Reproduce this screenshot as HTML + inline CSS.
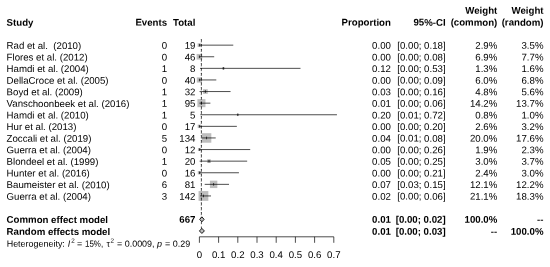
<!DOCTYPE html><html><head><meta charset="utf-8"><title>Forest plot</title><style>html,body{margin:0;padding:0;background:#fff}svg{display:block}text{text-rendering:geometricPrecision;font-family:"Liberation Sans",Arial,Helvetica,sans-serif;font-size:9.67px;fill:#000}.b{font-weight:bold}.e{text-anchor:end}.m{text-anchor:middle}</style></head><body>
<svg width="550" height="267" viewBox="0 0 550 267">
<rect width="550" height="267" fill="#fff"/>
<text transform="matrix(1,0.001,0,1,6.60,25.65)" class="b">Study</text>
<text transform="matrix(1,0.001,0,1,167.10,25.65)" class="b e">Events</text>
<text transform="matrix(1,0.001,0,1,195.40,25.65)" class="b e">Total</text>
<text transform="matrix(1,0.001,0,1,390.90,25.65)" class="b e">Proportion</text>
<text transform="matrix(1,0.001,0,1,445.60,25.65)" class="b e">95%-CI</text>
<text transform="matrix(1,0.001,0,1,497.30,13.75)" class="b e">Weight</text>
<text transform="matrix(1,0.001,0,1,497.30,25.65)" class="b e">(common)</text>
<text transform="matrix(1,0.001,0,1,543.50,13.75)" class="b e">Weight</text>
<text transform="matrix(1,0.001,0,1,543.50,25.65)" class="b e">(random)</text>
<rect x="197.59" y="43.34" width="3.63" height="3.63" fill="#bebebe"/>
<rect x="196.60" y="53.95" width="5.60" height="5.60" fill="#bebebe"/>
<rect x="222.19" y="67.14" width="2.43" height="2.43" fill="#bebebe"/>
<rect x="196.79" y="77.34" width="5.22" height="5.22" fill="#bebebe"/>
<rect x="203.07" y="89.22" width="4.67" height="4.67" fill="#bebebe"/>
<rect x="197.41" y="99.14" width="8.03" height="8.03" fill="#bebebe"/>
<rect x="236.85" y="113.80" width="1.91" height="1.91" fill="#bebebe"/>
<rect x="197.68" y="124.63" width="3.43" height="3.43" fill="#bebebe"/>
<rect x="201.80" y="133.19" width="9.53" height="9.53" fill="#bebebe"/>
<rect x="197.93" y="148.08" width="2.94" height="2.94" fill="#bebebe"/>
<rect x="207.16" y="159.31" width="3.69" height="3.69" fill="#bebebe"/>
<rect x="197.75" y="171.10" width="3.30" height="3.30" fill="#bebebe"/>
<rect x="209.92" y="180.65" width="7.41" height="7.41" fill="#bebebe"/>
<rect x="198.56" y="191.06" width="9.78" height="9.78" fill="#bebebe"/>
<text transform="matrix(1,0.001,0,1,6.60,48.85)">Rad et al.&#160; (2010)</text>
<text transform="matrix(1,0.001,0,1,167.10,48.85)" class="e">0</text>
<text transform="matrix(1,0.001,0,1,195.40,48.85)" class="e">19</text>
<text transform="matrix(1,0.001,0,1,390.90,48.85)" class="e">0.00</text>
<text transform="matrix(1,0.001,0,1,445.60,48.85)" class="e">[0.00; 0.18]</text>
<text transform="matrix(1,0.001,0,1,497.30,48.85)" class="e">2.9%</text>
<text transform="matrix(1,0.001,0,1,543.50,48.85)" class="e">3.5%</text>
<line x1="199.40" y1="45.15" x2="233.28" y2="45.15" stroke="#000" stroke-width="0.7"/>
<line x1="199.40" y1="43.85" x2="199.40" y2="46.45" stroke="#000" stroke-width="0.7"/>
<text transform="matrix(1,0.001,0,1,6.60,60.45)">Flores et al. (2012)</text>
<text transform="matrix(1,0.001,0,1,167.10,60.45)" class="e">0</text>
<text transform="matrix(1,0.001,0,1,195.40,60.45)" class="e">46</text>
<text transform="matrix(1,0.001,0,1,390.90,60.45)" class="e">0.00</text>
<text transform="matrix(1,0.001,0,1,445.60,60.45)" class="e">[0.00; 0.08]</text>
<text transform="matrix(1,0.001,0,1,497.30,60.45)" class="e">6.9%</text>
<text transform="matrix(1,0.001,0,1,543.50,60.45)" class="e">7.7%</text>
<line x1="199.40" y1="56.75" x2="214.20" y2="56.75" stroke="#000" stroke-width="0.7"/>
<line x1="199.40" y1="55.45" x2="199.40" y2="58.05" stroke="#000" stroke-width="0.7"/>
<text transform="matrix(1,0.001,0,1,6.60,72.05)">Hamdi et al. (2004)</text>
<text transform="matrix(1,0.001,0,1,167.10,72.05)" class="e">1</text>
<text transform="matrix(1,0.001,0,1,195.40,72.05)" class="e">8</text>
<text transform="matrix(1,0.001,0,1,390.90,72.05)" class="e">0.12</text>
<text transform="matrix(1,0.001,0,1,445.60,72.05)" class="e">[0.00; 0.53]</text>
<text transform="matrix(1,0.001,0,1,497.30,72.05)" class="e">1.3%</text>
<text transform="matrix(1,0.001,0,1,543.50,72.05)" class="e">1.6%</text>
<line x1="200.01" y1="68.35" x2="300.49" y2="68.35" stroke="#000" stroke-width="0.7"/>
<line x1="223.40" y1="67.05" x2="223.40" y2="69.65" stroke="#000" stroke-width="0.7"/>
<text transform="matrix(1,0.001,0,1,6.60,83.65)">DellaCroce et al. (2005)</text>
<text transform="matrix(1,0.001,0,1,167.10,83.65)" class="e">0</text>
<text transform="matrix(1,0.001,0,1,195.40,83.65)" class="e">40</text>
<text transform="matrix(1,0.001,0,1,390.90,83.65)" class="e">0.00</text>
<text transform="matrix(1,0.001,0,1,445.60,83.65)" class="e">[0.00; 0.09]</text>
<text transform="matrix(1,0.001,0,1,497.30,83.65)" class="e">6.0%</text>
<text transform="matrix(1,0.001,0,1,543.50,83.65)" class="e">6.8%</text>
<line x1="199.40" y1="79.95" x2="216.31" y2="79.95" stroke="#000" stroke-width="0.7"/>
<line x1="199.40" y1="78.65" x2="199.40" y2="81.25" stroke="#000" stroke-width="0.7"/>
<text transform="matrix(1,0.001,0,1,6.60,95.25)">Boyd et al. (2009)</text>
<text transform="matrix(1,0.001,0,1,167.10,95.25)" class="e">1</text>
<text transform="matrix(1,0.001,0,1,195.40,95.25)" class="e">32</text>
<text transform="matrix(1,0.001,0,1,390.90,95.25)" class="e">0.03</text>
<text transform="matrix(1,0.001,0,1,445.60,95.25)" class="e">[0.00; 0.16]</text>
<text transform="matrix(1,0.001,0,1,497.30,95.25)" class="e">4.8%</text>
<text transform="matrix(1,0.001,0,1,543.50,95.25)" class="e">5.6%</text>
<line x1="199.55" y1="91.55" x2="230.54" y2="91.55" stroke="#000" stroke-width="0.7"/>
<line x1="205.40" y1="90.25" x2="205.40" y2="92.85" stroke="#000" stroke-width="0.7"/>
<text transform="matrix(1,0.001,0,1,6.60,106.85)">Vanschoonbeek et al. (2016)</text>
<text transform="matrix(1,0.001,0,1,167.10,106.85)" class="e">1</text>
<text transform="matrix(1,0.001,0,1,195.40,106.85)" class="e">95</text>
<text transform="matrix(1,0.001,0,1,390.90,106.85)" class="e">0.01</text>
<text transform="matrix(1,0.001,0,1,445.60,106.85)" class="e">[0.00; 0.06]</text>
<text transform="matrix(1,0.001,0,1,497.30,106.85)" class="e">14.2%</text>
<text transform="matrix(1,0.001,0,1,543.50,106.85)" class="e">13.7%</text>
<line x1="199.45" y1="103.15" x2="210.39" y2="103.15" stroke="#000" stroke-width="0.7"/>
<line x1="201.42" y1="101.85" x2="201.42" y2="104.45" stroke="#000" stroke-width="0.7"/>
<text transform="matrix(1,0.001,0,1,6.60,118.45)">Hamdi et al. (2010)</text>
<text transform="matrix(1,0.001,0,1,167.10,118.45)" class="e">1</text>
<text transform="matrix(1,0.001,0,1,195.40,118.45)" class="e">5</text>
<text transform="matrix(1,0.001,0,1,390.90,118.45)" class="e">0.20</text>
<text transform="matrix(1,0.001,0,1,445.60,118.45)" class="e">[0.01; 0.72]</text>
<text transform="matrix(1,0.001,0,1,497.30,118.45)" class="e">0.8%</text>
<text transform="matrix(1,0.001,0,1,543.50,118.45)" class="e">1.0%</text>
<line x1="200.37" y1="114.75" x2="336.95" y2="114.75" stroke="#000" stroke-width="0.7"/>
<line x1="237.80" y1="113.45" x2="237.80" y2="116.05" stroke="#000" stroke-width="0.7"/>
<text transform="matrix(1,0.001,0,1,6.60,130.05)">Hur et al. (2013)</text>
<text transform="matrix(1,0.001,0,1,167.10,130.05)" class="e">0</text>
<text transform="matrix(1,0.001,0,1,195.40,130.05)" class="e">17</text>
<text transform="matrix(1,0.001,0,1,390.90,130.05)" class="e">0.00</text>
<text transform="matrix(1,0.001,0,1,445.60,130.05)" class="e">[0.00; 0.20]</text>
<text transform="matrix(1,0.001,0,1,497.30,130.05)" class="e">2.6%</text>
<text transform="matrix(1,0.001,0,1,543.50,130.05)" class="e">3.2%</text>
<line x1="199.40" y1="126.35" x2="236.85" y2="126.35" stroke="#000" stroke-width="0.7"/>
<line x1="199.40" y1="125.05" x2="199.40" y2="127.65" stroke="#000" stroke-width="0.7"/>
<text transform="matrix(1,0.001,0,1,6.60,141.65)">Zoccali et al. (2019)</text>
<text transform="matrix(1,0.001,0,1,167.10,141.65)" class="e">5</text>
<text transform="matrix(1,0.001,0,1,195.40,141.65)" class="e">134</text>
<text transform="matrix(1,0.001,0,1,390.90,141.65)" class="e">0.04</text>
<text transform="matrix(1,0.001,0,1,445.60,141.65)" class="e">[0.01; 0.08]</text>
<text transform="matrix(1,0.001,0,1,497.30,141.65)" class="e">20.0%</text>
<text transform="matrix(1,0.001,0,1,543.50,141.65)" class="e">17.6%</text>
<line x1="201.75" y1="137.95" x2="215.71" y2="137.95" stroke="#000" stroke-width="0.7"/>
<line x1="206.56" y1="136.65" x2="206.56" y2="139.25" stroke="#000" stroke-width="0.7"/>
<text transform="matrix(1,0.001,0,1,6.60,153.25)">Guerra et al. (2004)</text>
<text transform="matrix(1,0.001,0,1,167.10,153.25)" class="e">0</text>
<text transform="matrix(1,0.001,0,1,195.40,153.25)" class="e">12</text>
<text transform="matrix(1,0.001,0,1,390.90,153.25)" class="e">0.00</text>
<text transform="matrix(1,0.001,0,1,445.60,153.25)" class="e">[0.00; 0.26]</text>
<text transform="matrix(1,0.001,0,1,497.30,153.25)" class="e">1.9%</text>
<text transform="matrix(1,0.001,0,1,543.50,153.25)" class="e">2.3%</text>
<line x1="199.40" y1="149.55" x2="250.21" y2="149.55" stroke="#000" stroke-width="0.7"/>
<line x1="199.40" y1="148.25" x2="199.40" y2="150.85" stroke="#000" stroke-width="0.7"/>
<text transform="matrix(1,0.001,0,1,6.60,164.85)">Blondeel et al. (1999)</text>
<text transform="matrix(1,0.001,0,1,167.10,164.85)" class="e">1</text>
<text transform="matrix(1,0.001,0,1,195.40,164.85)" class="e">20</text>
<text transform="matrix(1,0.001,0,1,390.90,164.85)" class="e">0.05</text>
<text transform="matrix(1,0.001,0,1,445.60,164.85)" class="e">[0.00; 0.25]</text>
<text transform="matrix(1,0.001,0,1,497.30,164.85)" class="e">3.0%</text>
<text transform="matrix(1,0.001,0,1,543.50,164.85)" class="e">3.7%</text>
<line x1="199.64" y1="161.15" x2="247.16" y2="161.15" stroke="#000" stroke-width="0.7"/>
<line x1="209.00" y1="159.85" x2="209.00" y2="162.45" stroke="#000" stroke-width="0.7"/>
<text transform="matrix(1,0.001,0,1,6.60,176.45)">Hunter et al. (2016)</text>
<text transform="matrix(1,0.001,0,1,167.10,176.45)" class="e">0</text>
<text transform="matrix(1,0.001,0,1,195.40,176.45)" class="e">16</text>
<text transform="matrix(1,0.001,0,1,390.90,176.45)" class="e">0.00</text>
<text transform="matrix(1,0.001,0,1,445.60,176.45)" class="e">[0.00; 0.21]</text>
<text transform="matrix(1,0.001,0,1,497.30,176.45)" class="e">2.4%</text>
<text transform="matrix(1,0.001,0,1,543.50,176.45)" class="e">3.0%</text>
<line x1="199.40" y1="172.75" x2="238.93" y2="172.75" stroke="#000" stroke-width="0.7"/>
<line x1="199.40" y1="171.45" x2="199.40" y2="174.05" stroke="#000" stroke-width="0.7"/>
<text transform="matrix(1,0.001,0,1,6.60,188.05)">Baumeister et al. (2010)</text>
<text transform="matrix(1,0.001,0,1,167.10,188.05)" class="e">6</text>
<text transform="matrix(1,0.001,0,1,195.40,188.05)" class="e">81</text>
<text transform="matrix(1,0.001,0,1,390.90,188.05)" class="e">0.07</text>
<text transform="matrix(1,0.001,0,1,445.60,188.05)" class="e">[0.03; 0.15]</text>
<text transform="matrix(1,0.001,0,1,497.30,188.05)" class="e">12.1%</text>
<text transform="matrix(1,0.001,0,1,543.50,188.05)" class="e">12.2%</text>
<line x1="204.71" y1="184.35" x2="229.02" y2="184.35" stroke="#000" stroke-width="0.7"/>
<line x1="213.62" y1="183.05" x2="213.62" y2="185.65" stroke="#000" stroke-width="0.7"/>
<text transform="matrix(1,0.001,0,1,6.60,199.65)">Guerra et al. (2004)</text>
<text transform="matrix(1,0.001,0,1,167.10,199.65)" class="e">3</text>
<text transform="matrix(1,0.001,0,1,195.40,199.65)" class="e">142</text>
<text transform="matrix(1,0.001,0,1,390.90,199.65)" class="e">0.02</text>
<text transform="matrix(1,0.001,0,1,445.60,199.65)" class="e">[0.00; 0.06]</text>
<text transform="matrix(1,0.001,0,1,497.30,199.65)" class="e">21.1%</text>
<text transform="matrix(1,0.001,0,1,543.50,199.65)" class="e">18.3%</text>
<line x1="200.24" y1="195.95" x2="211.02" y2="195.95" stroke="#000" stroke-width="0.7"/>
<line x1="203.46" y1="194.65" x2="203.46" y2="197.25" stroke="#000" stroke-width="0.7"/>
<line x1="201.28" y1="39.35" x2="201.28" y2="219.15" stroke="#000" stroke-width="0.7" stroke-dasharray="0.6 1.8"/>
<line x1="201.42" y1="39.35" x2="201.42" y2="230.75" stroke="#000" stroke-width="0.7" stroke-dasharray="2.4 2.4"/>
<polygon points="199.70,219.35 201.90,216.85 204.10,219.35 201.90,221.85" fill="#bebebe" stroke="#000" stroke-width="0.9" stroke-linejoin="round"/>
<polygon points="199.40,230.95 201.90,228.45 204.40,230.95 201.90,233.45" fill="#bebebe" stroke="#000" stroke-width="0.9" stroke-linejoin="round"/>
<text transform="matrix(1,0.001,0,1,6.60,222.85)" class="b">Common effect model</text>
<text transform="matrix(1,0.001,0,1,195.40,222.85)" class="b e">667</text>
<text transform="matrix(1,0.001,0,1,390.90,222.85)" class="b e">0.01</text>
<text transform="matrix(1,0.001,0,1,445.60,222.85)" class="b e">[0.00; 0.02]</text>
<text transform="matrix(1,0.001,0,1,497.30,222.85)" class="b e">100.0%</text>
<text transform="matrix(1,0.001,0,1,543.50,222.85)" class="b e">--</text>
<text transform="matrix(1,0.001,0,1,6.60,234.85)" class="b">Random effects model</text>
<text transform="matrix(1,0.001,0,1,390.90,234.85)" class="b e">0.01</text>
<text transform="matrix(1,0.001,0,1,445.60,234.85)" class="b e">[0.00; 0.03]</text>
<text transform="matrix(1,0.001,0,1,497.30,234.85)" class="b e">--</text>
<text transform="matrix(1,0.001,0,1,543.50,234.85)" class="b e">100.0%</text>
<text transform="matrix(1,0.001,0,1,6.70,246.75)" style="font-size:8.95px">Heterogeneity: </text>
<text transform="matrix(1,0.001,0,1,67.70,246.75)" style="font-size:8.95px;font-style:italic">I</text>
<text transform="matrix(1,0.001,0,1,71.30,242.85)" style="font-size:6.26px">2</text>
<text transform="matrix(1,0.001,0,1,77.00,246.75)" style="font-size:8.95px">=</text>
<text transform="matrix(1,0.001,0,1,85.00,246.75)" style="font-size:8.95px" textLength="18.1" lengthAdjust="spacingAndGlyphs">15%,</text>
<text transform="matrix(1,0.001,0,1,106.60,246.75)" style="font-size:8.95px">&#964;</text>
<text transform="matrix(1,0.001,0,1,110.60,242.85)" style="font-size:6.26px">2</text>
<text transform="matrix(1,0.001,0,1,117.00,246.75)" style="font-size:8.95px">= 0.0009,</text>
<text transform="matrix(1,0.001,0,1,157.00,246.75)" style="font-size:8.95px;font-style:italic">p</text>
<text transform="matrix(1,0.001,0,1,165.00,246.75)" style="font-size:8.95px">= 0.29</text>
<line x1="199.40" y1="236.80" x2="333.80" y2="236.80" stroke="#000" stroke-width="0.7"/>
<line x1="199.40" y1="236.80" x2="199.40" y2="242.80" stroke="#000" stroke-width="0.7"/>
<text transform="matrix(1,0.001,0,1,199.40,258.00)" class="m">0</text>
<line x1="218.60" y1="236.80" x2="218.60" y2="242.80" stroke="#000" stroke-width="0.7"/>
<text transform="matrix(1,0.001,0,1,218.60,258.00)" class="m">0.1</text>
<line x1="237.80" y1="236.80" x2="237.80" y2="242.80" stroke="#000" stroke-width="0.7"/>
<text transform="matrix(1,0.001,0,1,237.80,258.00)" class="m">0.2</text>
<line x1="257.00" y1="236.80" x2="257.00" y2="242.80" stroke="#000" stroke-width="0.7"/>
<text transform="matrix(1,0.001,0,1,257.00,258.00)" class="m">0.3</text>
<line x1="276.20" y1="236.80" x2="276.20" y2="242.80" stroke="#000" stroke-width="0.7"/>
<text transform="matrix(1,0.001,0,1,276.20,258.00)" class="m">0.4</text>
<line x1="295.40" y1="236.80" x2="295.40" y2="242.80" stroke="#000" stroke-width="0.7"/>
<text transform="matrix(1,0.001,0,1,295.40,258.00)" class="m">0.5</text>
<line x1="314.60" y1="236.80" x2="314.60" y2="242.80" stroke="#000" stroke-width="0.7"/>
<text transform="matrix(1,0.001,0,1,314.60,258.00)" class="m">0.6</text>
<line x1="333.80" y1="236.80" x2="333.80" y2="242.80" stroke="#000" stroke-width="0.7"/>
<text transform="matrix(1,0.001,0,1,333.80,258.00)" class="m">0.7</text>
</svg></body></html>
